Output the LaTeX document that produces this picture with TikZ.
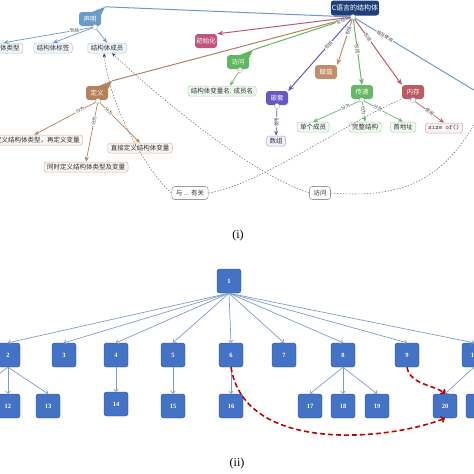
\documentclass[tikz,border=0pt]{standalone}
\usepackage{fontspec}
\setmainfont{Liberation Serif}
\newfontfamily\cjk{Noto Sans CJK SC}
\usepackage{tikz}
\usetikzlibrary{arrows.meta}
\usetikzlibrary{positioning}

\definecolor{rootnavy}{HTML}{1F3F7A}
\definecolor{declblue}{HTML}{6B9CC8}
\definecolor{initrose}{HTML}{C0567E}
\definecolor{visgreen}{HTML}{5FB85F}
\definecolor{defbrown}{HTML}{B5805A}
\definecolor{nestpurple}{HTML}{6A55C4}
\definecolor{assigntan}{HTML}{C08E6C}
\definecolor{passgreen}{HTML}{66B866}
\definecolor{memred}{HTML}{BD5A62}
\definecolor{boxblue}{HTML}{4472C4}
\definecolor{boxedge}{HTML}{2F528F}
\definecolor{linkblue}{HTML}{7F9CCB}
\definecolor{jumpred}{HTML}{C00000}

\tikzset{
    topic/.style = {shape=rectangle,rounded corners=3pt,text=white,font=\cjk\fontsize{6.5}{7}\selectfont,minimum width=22pt,minimum height=14pt,inner sep=1pt},
    leaf/.style = {shape=rectangle,rounded corners=2.5pt,draw=#1!55,fill=#1!8,text=black!80,font=\cjk\fontsize{6.5}{7}\selectfont,minimum height=10pt,inner xsep=3pt,inner ysep=1pt,line width=0.5pt},
    note/.style = {shape=rectangle,rounded corners=3pt,draw=gray!80,fill=white,text=black!80,font=\cjk\fontsize{6.5}{7}\selectfont,minimum height=13pt,inner xsep=4pt,line width=0.6pt},
    knob/.style = {circle,draw=gray!70,fill=white,inner sep=0,minimum size=5pt},
    branch/.style = {line width=1pt,-{Stealth[length=6pt,width=5pt]}},
    twig/.style = {line width=0.7pt,-{Stealth[length=5pt,width=4pt]}},
    lab/.style = {font=\cjk\fontsize{4.5}{5}\selectfont,sloped,inner sep=0.5pt,fill=white,text=black!75},
    xref/.style = {gray,line width=0.6pt,dash pattern=on 1.5pt off 1.5pt},
    numbox/.style = {shape=rectangle,rounded corners=2.5pt,fill=boxblue,draw=boxedge,text=white,font=\bfseries\fontsize{6.5}{7}\selectfont,minimum width=24pt,minimum height=24pt,inner sep=0},
    link/.style = {draw=linkblue,line width=0.7pt,-{To[length=3pt,width=5pt]}},
    jump/.style = {draw=jumpred,line width=1.6pt,dash pattern=on 5pt off 3pt,-{To[length=4pt,width=7pt]}}
}

\begin{document}
\begin{tikzpicture}[x=1pt,y=-1pt]
    \useasboundingbox (0,0) rectangle (474,474);
    % Topics
    \node[topic,fill=rootnavy,font=\cjk\fontsize{7}{8}\selectfont,minimum height=15pt] (C) at (355,8) {C语言的结构体};
    \node[topic,fill=declblue] (decl) at (90,19) {声明};
    \node[topic,fill=initrose] (init) at (206,41) {初始化};
    \node[topic,fill=visgreen] (visit) at (238,62) {访问};
    \node[topic,fill=defbrown] (defn) at (97,93) {定义};
    \node[topic,fill=nestpurple] (nest) at (277,98) {嵌套};
    \node[topic,fill=assigntan] (assign) at (326,72) {赋值};
    \node[topic,fill=passgreen] (pass) at (362,92) {传递};
    \node[topic,fill=memred] (mem) at (413,92) {内存};
    \coordinate (offright) at (540,130);
    % Tails
    \foreach \n/\col in {decl/declblue,visit/visgreen,defn/defbrown}
        \fill[\col] ([xshift=-9pt]\n.north east) -- ([xshift=4pt,yshift=5pt]\n.north east) coordinate (\n tip) -- ([yshift=-3pt]\n.north east) -- cycle;
    % Knobs
    \node[knob] (Ck) at (353,17) {};
    \node[knob] (declk) at (95,27) {};
    \node[knob] (visitk) at (240,70) {};
    \node[knob] (defnk) at (98,101) {};
    \node[knob] (nestk) at (277,106) {};
    \node[knob] (passk) at (362,100) {};
    \node[knob] (memk) at (413,100) {};
    % Leaves
    \node[leaf=declblue,anchor=east] (dtype) at (23,48) {结构体类型};
    \node[leaf=declblue] (dtag) at (53,48) {结构体标签};
    \node[leaf=declblue] (dmem) at (107,48) {结构体成员};
    \node[leaf=visgreen] (vname) at (222,91) {结构体变量名. 成员名};
    \node[leaf=defbrown,anchor=east] (dsep) at (83,140) {先定义结构体类型，再定义变量};
    \node[leaf=defbrown] (dboth) at (86,167) {同时定义结构体类型及变量};
    \node[leaf=defbrown] (ddirect) at (140,148) {直接定义结构体变量};
    \node[leaf=nestpurple] (array) at (276,141) {数组};
    \node[leaf=passgreen] (single) at (313,127) {单个成员};
    \node[leaf=passgreen] (whole) at (365,127) {完整结构};
    \node[leaf=passgreen] (addr) at (403,127) {首地址};
    \node[leaf=memred,font=\ttfamily\fontsize{6.5}{7}\selectfont] (sizeof) at (444,128) {size of()};
    \node[note] (rel) at (190,193) {与 ... 有关};
    \node[note] (acc) at (320,193) {访问};
    % Branches
    \draw[line width=1pt,declblue] (Ck) to (decltip);
    \draw[line width=1pt,defbrown] (Ck) to (defntip);
    \draw[line width=1pt,visgreen] (Ck) to node[lab,pos=0.1] {包括} (visittip);
    \draw[branch,initrose] (Ck) to (init.north east);
    \draw[branch,nestpurple] (Ck) to node[lab,pos=0.36] {包括} (nest.north east);
    \draw[branch,assigntan] (Ck) to node[lab,pos=0.25] {包括} (assign.north east);
    \draw[branch,passgreen] (Ck) to node[lab,pos=0.45] {包括} (pass.north);
    \draw[branch,memred] (Ck) to node[lab,pos=0.28] {包括} (mem.north west);
    \draw[line width=1pt,declblue] (Ck) to node[lab,pos=0.16] {相互使用} (offright);
    % Twigs
    \draw[twig,declblue] (declk) to node[lab,pos=0.2] {包括} (dtype.north);
    \foreach \dest in {dtag,dmem}
        \draw[twig,declblue] (declk) to (\dest.north);
    \draw[twig,visgreen] (visitk) to ([xshift=8pt]vname.north);
    \foreach \dest/\p in {dsep/0.25,dboth/0.3,ddirect/0.22}
        \draw[twig,defbrown] (defnk) to node[lab,pos=\p] {分为} (\dest.north);
    \draw[twig,nestpurple] (nestk) to node[lab] {使用} (array.north);
    \foreach \dest/\p in {single/0.3,whole/0.4,addr/0.35}
        \draw[twig,passgreen] (passk) to node[lab,pos=\p] {分为} (\dest.north);
    \draw[twig,memred] (memk) to node[lab,pos=0.5] {使用} (sizeof.north);
    % Cross links
    \draw[xref,-{Stealth[length=4pt,width=3pt,color=rootnavy]}] (rel.west) .. controls (150,175) and (110,110) .. ([xshift=-3pt]dmem.south);
    \draw[xref,-{Stealth[length=4pt,width=3pt,color=rootnavy]}] (acc.west) .. controls (240,170) and (135,75) .. ([xshift=5pt]dmem.south);
    \draw[xref] (rel.east) .. controls (260,185) and (350,120) .. (mem.south west);
    \draw[xref] (acc.east) .. controls (420,200) and (460,170) .. (500,70);
    \node[font=\fontsize{12}{14}\selectfont] (capi) at (238,236) {(i)};
    % Tree
    \foreach \n/\x/\y in {1/229/281,2/8/355,3/64/355,4/116/355,5/173/355,6/231/355,7/284/355,8/343/355,9/407/355,10/474/355,12/8/406,13/48/406,14/116/404,15/173/406,16/231/406,17/310/406,18/343/406,19/377/406,20/445/406,21/478/406}
        \node[numbox] (n\n) at (\x,\y) {\n};
    \coordinate (off11) at (-28,394);
    \foreach \dest in {2,...,10}
        \draw[link] (n1.south) to (n\dest.north);
    \foreach \src/\dest in {2/12,2/13,4/14,5/15,6/16,8/17,8/18,8/19,10/20,10/21}
        \draw[link] (n\src.south) to (n\dest.north);
    \draw[link] (n2.south) to (off11);
    \draw[jump] (n6.south) .. controls (245,455) and (390,440) .. (n20.south);
    \draw[jump] (n9.south) .. controls (410,385) and (435,385) .. (n20.north);
    \node[font=\fontsize{12}{14}\selectfont] (capii) at (237,464) {(ii)};
\end{tikzpicture}
\end{document}
